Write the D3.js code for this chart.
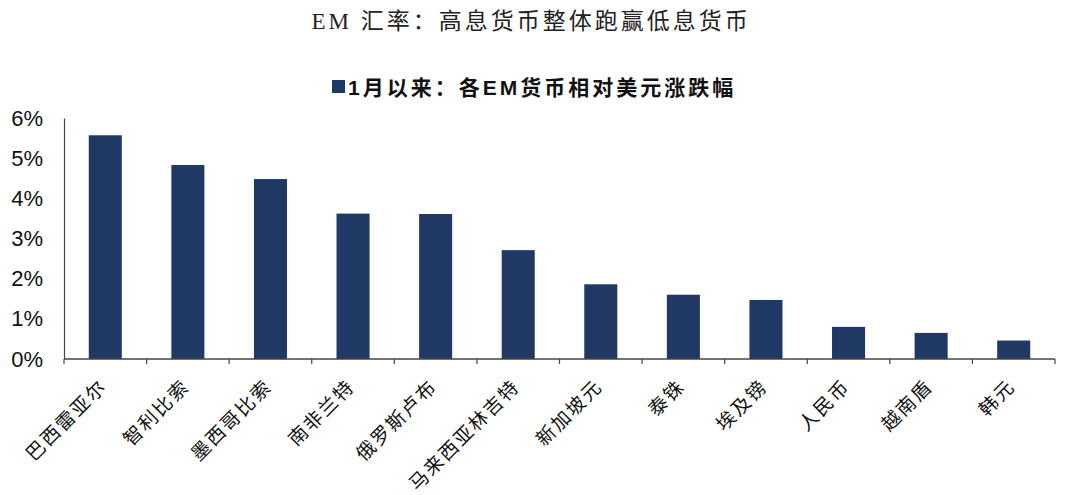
<!DOCTYPE html>
<html>
<head>
<meta charset="utf-8">
<script src="https://cdn.jsdelivr.net/npm/d3@7"></script>
<style>
  body { margin: 0; background: #fff; }
  svg text { font-family: "Liberation Sans", Arial, "Noto Sans CJK SC", sans-serif; }
</style>
</head>
<body>
<div id="chart"></div>
<script>
// categories and values (percent change vs USD since January)
var currencies = ['巴西雷亚尔', '智利比索', '墨西哥比索', '南非兰特', '俄罗斯卢布', '马来西亚林吉特',
                  '新加坡元', '泰铢', '埃及镑', '人民币', '越南盾', '韩元'];
var changePct = [5.57, 4.83, 4.48, 3.62, 3.61, 2.71, 1.86, 1.60, 1.47, 0.80, 0.65, 0.46];
var yTicks = [0, 1, 2, 3, 4, 5, 6];
var titleText = 'EM 汇率：高息货币整体跑赢低息货币';
var legendText = '1月以来：各EM货币相对美元涨跌幅';

var svgWidth = 1080;
var svgHeight = 495;

var margin = { top: 118, bottom: 136, left: 64, right: 25 };
var chartWidth = svgWidth - margin.left - margin.right;
var chartHeight = svgHeight - margin.top - margin.bottom;

var barColor = '#1f3864';

var svg = d3.select('#chart').append('svg')
    .attr('width', svgWidth).attr('height', svgHeight);

// title
svg.append('text')
    .attr('x', 531).attr('y', 29)
    .attr('text-anchor', 'middle')
    .style('font-family', '"Liberation Serif", "Noto Sans CJK SC", serif')
    .style('font-size', '23px')
    .style('letter-spacing', '3px')
    .attr('fill', '#222')
    .text(titleText);

// legend
var legend = svg.append('g').attr('transform', 'translate(332,87)');
legend.append('rect')
    .attr('x', 0).attr('y', -7).attr('width', 13).attr('height', 13)
    .attr('fill', barColor);
legend.append('text')
    .attr('x', 16).attr('y', 8)
    .style('font-size', '21px')
    .style('font-weight', 'bold')
    .style('letter-spacing', '3px')
    .attr('fill', '#111')
    .text(legendText);

var chartGroup = svg.append('g').attr('transform', `translate(${margin.left},${margin.top})`);

var xScale = d3.scaleBand().domain(currencies).range([0, chartWidth]).paddingInner(0.6).paddingOuter(0.3);
var yScale = d3.scaleLinear().domain([0, 6]).range([chartHeight, 0]);

// bars
chartGroup.selectAll('rect.bar')
    .data(currencies)
    .enter()
    .append('rect')
    .attr('class', 'bar')
    .attr('x', d => xScale(d))
    .attr('y', (d, i) => yScale(changePct[i]))
    .attr('width', xScale.bandwidth())
    .attr('height', (d, i) => chartHeight - yScale(changePct[i]))
    .attr('fill', barColor);

// y axis
var leftAxis = d3.axisLeft(yScale).tickValues(yTicks).tickSize(0).tickPadding(21).tickFormat(d => d + '%');
var yAxis = chartGroup.append('g').call(leftAxis);
yAxis.select('.domain').attr('stroke', '#444').attr('stroke-width', 1.2);
yAxis.selectAll('text').style('font-size', '22px').attr('fill', '#111');

// x axis: ticks between categories
var xAxis = chartGroup.append('g').attr('transform', `translate(0,${chartHeight})`);
xAxis.append('line')
    .attr('x1', 0).attr('x2', chartWidth)
    .attr('stroke', '#444').attr('stroke-width', 1.5);
xAxis.selectAll('line.tick')
    .data(d3.range(currencies.length + 1))
    .enter()
    .append('line')
    .attr('class', 'tick')
    .attr('x1', i => i * chartWidth / currencies.length)
    .attr('x2', i => i * chartWidth / currencies.length)
    .attr('y1', 0).attr('y2', 5)
    .attr('stroke', '#444').attr('stroke-width', 1.2);

xAxis.selectAll('text')
    .data(currencies)
    .enter()
    .append('text')
    .attr('text-anchor', 'end')
    .attr('transform', d => `translate(${xScale(d) + xScale.bandwidth() / 2 - 2},${24}) rotate(-45)`)
    .attr('dy', '0.35em')
    .style('font-family', '"Noto Sans CJK SC", sans-serif')
    .style('font-size', '19px')
    .style('letter-spacing', '2px')
    .attr('fill', '#111')
    .text(d => d);
</script>
</body>
</html>
